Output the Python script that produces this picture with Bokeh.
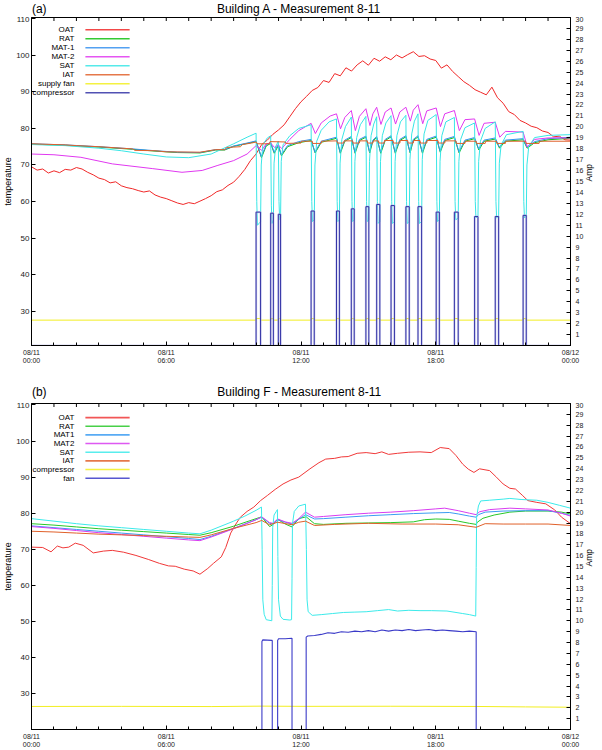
import math
from bokeh.plotting import figure
from bokeh.models import Range1d, LinearAxis, FixedTicker, Label
from bokeh.layouts import column
from bokeh.embed import file_html
from bokeh.resources import INLINE

FONT = "Liberation Sans"

# ---------------- axis ticks / labels ----------------
HOUR_TICKS = [0, 6, 12, 18, 24]
HOUR_LABELS = ["08/11\n00:00", "08/11\n06:00", "08/11\n12:00", "08/11\n18:00", "08/12\n00:00"]
MINOR_HOURS = list(range(25))
TEMP_TICKS = [30, 40, 50, 60, 70, 80, 90, 100, 110]
AMP_TICKS = list(range(1, 31))

# ---------------- Panel (a): Building A ----------------
TITLE_A = "Building A - Measurement 8-11"
LEGEND_A = ["OAT", "RAT", "MAT-1", "MAT-2", "SAT", "IAT", "supply fan", "compressor"]
COLORS_A = ["#f02828", "#10c010", "#3590ee", "#e038f0", "#38e6e6", "#e0602a", "#f2ee20", "#3232a6"]

# OAT every 15 minutes from 00:00 to 24:00
OAT_A = [69.5, 68.6, 68.9, 67.8, 68.4, 67.9, 68.8, 68.6, 69.3, 68.9, 68.0, 67.3,
         66.4, 66.0, 65.1, 65.4, 64.3, 63.8, 63.5, 63.0, 62.6, 62.9, 61.8, 61.2,
         60.8, 60.2, 59.6, 59.2, 59.7, 59.4, 60.1, 60.8, 61.6, 62.7, 63.2, 64.4,
         65.3, 66.9, 68.8, 71.2, 73.0, 75.6, 76.8, 78.4, 79.6, 81.0, 83.2, 85.4,
         87.3, 88.8, 90.4, 91.2, 93.1, 92.6, 95.0, 94.4, 96.6, 95.7, 97.4, 98.5,
         97.3, 99.2, 98.4, 99.6, 98.8, 100.1, 99.3, 100.2, 101.0, 99.7, 99.9, 99.0,
         98.6, 96.5, 97.4, 95.6, 94.2, 92.8, 91.8, 90.6, 89.9, 89.2, 91.3, 88.4,
         86.9, 84.6, 83.8, 82.2, 81.5, 80.6, 80.2, 79.3, 78.9, 77.7, 77.9, 76.9, 76.8]
OAT_A_STEP_H = 0.25

RAT_A = [(0.0, 75.7), (1.5, 75.4), (3.0, 74.9), (4.5, 74.3), (5.5, 73.8), (6.5, 73.4), (7.5, 73.3),
         (8.2, 74.1), (8.6, 74.1), (9.0, 75.1), (9.6, 75.9), (10.0, 76.4),
         (10.24, 72.0), (10.45, 75.2), (10.65, 75.9), (10.81, 73.2), (10.99, 75.3), (11.13, 72.5),
         (11.4, 75.0), (11.9, 76.1), (12.45, 76.7), (12.63, 73.3), (12.9, 76.2), (13.58, 77.3),
         (13.75, 73.2), (13.95, 76.5), (14.24, 77.5), (14.41, 73.2), (14.6, 76.7), (14.89, 77.6),
         (15.06, 73.3), (15.2, 76.5), (15.37, 77.5), (15.55, 73.2), (15.75, 76.7), (16.01, 77.7),
         (16.20, 73.2), (16.4, 76.7), (16.67, 77.7), (16.86, 73.3), (17.0, 76.7), (17.21, 77.7),
         (17.41, 73.2), (17.6, 76.7), (18.02, 77.6), (18.20, 73.5), (18.4, 76.7), (18.83, 77.5),
         (19.04, 73.3), (19.3, 76.5), (19.73, 77.2), (19.92, 74.1), (20.15, 76.5), (20.65, 77.1),
         (20.84, 74.6), (21.1, 76.5), (21.89, 76.9), (22.07, 74.6), (22.4, 76.1), (23.0, 76.9), (24.0, 77.3)]

MAT1_A = [(0.0, 75.8), (1.5, 75.5), (3.0, 75.0), (4.5, 74.4), (5.5, 73.9), (6.5, 73.5), (7.5, 73.4),
          (8.2, 74.2), (8.6, 74.2), (9.0, 75.2), (9.6, 76.0), (10.0, 76.6),
          (10.23, 72.3), (10.45, 75.5), (10.65, 76.2), (10.80, 73.5), (10.99, 75.6), (11.12, 72.8),
          (11.4, 75.3), (11.9, 76.4), (12.45, 77.0), (12.62, 73.5), (12.9, 76.5), (13.58, 77.6),
          (13.74, 73.5), (13.95, 76.8), (14.24, 77.8), (14.40, 73.5), (14.6, 77.0), (14.89, 77.9),
          (15.05, 73.6), (15.2, 76.8), (15.37, 77.8), (15.54, 73.5), (15.75, 77.0), (16.01, 78.0),
          (16.19, 73.5), (16.4, 77.0), (16.67, 78.0), (16.85, 73.6), (17.0, 77.0), (17.21, 78.0),
          (17.40, 73.5), (17.6, 77.0), (18.02, 77.9), (18.19, 73.8), (18.4, 77.0), (18.83, 77.8),
          (19.03, 73.6), (19.3, 76.8), (19.73, 77.5), (19.91, 74.4), (20.15, 76.8), (20.65, 77.4),
          (20.83, 74.9), (21.1, 76.8), (21.89, 77.2), (22.06, 74.9), (22.4, 76.4), (23.0, 77.2), (24.0, 77.6)]

MAT2_A = [(0.0, 73.0), (1.0, 72.8), (2.2, 72.1), (3.6, 70.3), (5.4, 69.0), (6.7, 68.0), (7.6, 68.5),
          (8.3, 69.9), (9.0, 71.2), (9.6, 73.0), (10.0, 75.3),
          (10.25, 74.0), (10.45, 75.8), (10.65, 76.0), (10.82, 74.8), (10.99, 75.5), (11.14, 74.5),
          (11.5, 77.0), (11.9, 79.4), (12.45, 81.4), (12.64, 78.6), (12.9, 81.5), (13.3, 83.4), (13.58, 84.0),
          (13.76, 79.9), (13.95, 83.0), (14.24, 84.9), (14.42, 79.4), (14.6, 83.3), (14.89, 85.4),
          (15.07, 80.8), (15.2, 84.0), (15.37, 85.8), (15.56, 81.1), (15.75, 84.5), (16.01, 85.6),
          (16.21, 81.2), (16.4, 84.5), (16.67, 85.8), (16.87, 82.0), (17.0, 85.0), (17.21, 86.5),
          (17.42, 81.3), (17.6, 84.8), (18.02, 85.6), (18.21, 80.5), (18.4, 84.0), (18.83, 84.9),
          (19.05, 79.4), (19.3, 82.4), (19.73, 82.6), (19.93, 78.1), (20.15, 81.4), (20.65, 81.7),
          (20.85, 77.6), (21.1, 79.2), (21.89, 79.0), (22.08, 74.9), (22.4, 77.0), (23.0, 77.4), (24.0, 77.4)]

SAT_A = [(0.0, 75.6), (1.5, 75.3), (3.0, 74.6), (4.0, 73.9), (5.0, 73.0), (6.0, 72.2), (7.0, 72.0),
         (8.0, 73.0), (9.0, 75.8), (9.6, 77.6), (10.0, 78.7),
         (10.03, 60.0), (10.06, 53.5), (10.20, 54.5), (10.23, 70.0), (10.30, 75.5), (10.50, 77.4), (10.65, 78.0),
         (10.68, 59.0), (10.71, 54.0), (10.77, 55.0), (10.80, 70.5), (10.87, 75.0), (10.99, 76.5),
         (11.02, 60.0), (11.05, 55.0), (11.09, 55.5), (11.12, 71.0), (11.20, 75.5), (11.50, 78.0), (11.90, 80.0), (12.45, 81.0),
         (12.48, 60.0), (12.51, 54.5), (12.59, 55.0), (12.62, 70.0), (12.70, 76.5), (12.90, 79.5), (13.25, 81.8), (13.58, 82.6),
         (13.61, 60.0), (13.64, 54.5), (13.71, 55.0), (13.74, 70.5), (13.82, 77.0), (13.98, 80.5), (14.24, 83.1),
         (14.27, 60.0), (14.30, 54.5), (14.37, 55.0), (14.40, 71.0), (14.48, 77.5), (14.64, 81.0), (14.89, 83.3),
         (14.92, 60.0), (14.95, 54.5), (15.02, 55.0), (15.05, 71.0), (15.12, 78.0), (15.24, 81.2), (15.37, 83.2),
         (15.40, 60.0), (15.43, 54.0), (15.51, 54.5), (15.54, 71.0), (15.62, 78.0), (15.78, 81.5), (16.01, 83.5),
         (16.04, 60.0), (16.07, 54.0), (16.16, 54.5), (16.19, 71.0), (16.27, 78.0), (16.43, 81.8), (16.67, 83.6),
         (16.70, 60.0), (16.73, 54.0), (16.82, 54.5), (16.85, 71.5), (16.93, 78.5), (17.05, 82.0), (17.21, 84.0),
         (17.24, 60.0), (17.27, 54.0), (17.37, 54.5), (17.40, 71.5), (17.48, 78.5), (17.65, 82.2), (18.02, 83.8),
         (18.05, 60.0), (18.08, 54.5), (18.16, 55.0), (18.19, 71.0), (18.27, 78.0), (18.45, 81.8), (18.83, 83.0),
         (18.86, 60.0), (18.89, 55.0), (19.00, 55.5), (19.03, 71.0), (19.11, 77.0), (19.30, 80.2), (19.73, 81.5),
         (19.76, 60.0), (19.79, 55.5), (19.88, 56.0), (19.91, 71.0), (19.99, 76.5), (20.20, 80.0), (20.65, 81.8),
         (20.68, 60.0), (20.71, 55.5), (20.80, 56.0), (20.83, 70.5), (20.91, 75.5), (21.15, 78.3), (21.89, 79.2),
         (21.92, 60.0), (21.95, 55.5), (22.03, 56.0), (22.06, 70.0), (22.14, 75.0), (22.40, 77.5), (23.0, 78.1), (24.0, 78.3)]

IAT_A = [(0.0, 75.8), (1.5, 75.5), (2.0, 75.3), (3.0, 75.0), (4.5, 74.4), (4.6, 74.0), (5.5, 73.9), (6.0, 73.6),
         (7.5, 73.5), (8.2, 74.2), (8.6, 74.2), (8.7, 74.8), (9.3, 75.0), (9.4, 75.6), (9.8, 76.0), (10.0, 76.3),
         (10.05, 75.8), (10.6, 75.8), (10.62, 76.4), (11.3, 76.3), (11.32, 75.9), (12.0, 76.0), (12.02, 76.5),
         (12.5, 76.5), (12.52, 75.9), (12.9, 75.9), (12.92, 76.5), (13.6, 76.6), (13.62, 76.0), (13.9, 76.0),
         (13.92, 76.6), (14.3, 76.6), (14.32, 76.0), (14.6, 76.0), (14.62, 76.6), (14.95, 76.6), (14.97, 76.0),
         (15.2, 76.0), (15.22, 76.6), (15.45, 76.6), (15.47, 76.0), (15.7, 76.0), (15.72, 76.7), (16.1, 76.7),
         (16.12, 76.0), (16.4, 76.0), (16.42, 76.7), (16.75, 76.7), (16.77, 76.0), (17.0, 76.0), (17.02, 76.7),
         (17.3, 76.7), (17.32, 76.0), (17.6, 76.0), (17.62, 76.7), (18.1, 76.7), (18.12, 76.0), (18.4, 76.0),
         (18.42, 76.6), (18.9, 76.6), (18.92, 75.9), (19.3, 75.9), (19.32, 76.5), (19.8, 76.5), (19.82, 75.9),
         (20.2, 75.9), (20.22, 76.5), (20.7, 76.5), (20.72, 75.9), (21.1, 75.9), (21.12, 76.5), (22.0, 76.5),
         (22.02, 75.9), (22.6, 75.9), (22.62, 76.5), (24.0, 76.5)]

# compressor cycles (hours) and current during each run (A)
COMP_A_ON = [10.00, 10.65, 10.99, 12.45, 13.58, 14.24, 14.89, 15.37, 16.01, 16.67, 17.21, 18.02, 18.83, 19.73, 20.65, 21.89]
COMP_A_OFF = [10.20, 10.77, 11.09, 12.59, 13.71, 14.37, 15.02, 15.51, 16.16, 16.82, 17.37, 18.16, 19.00, 19.88, 20.80, 22.03]
COMP_A_AMP = [12.2, 12.1, 12.0, 12.3, 12.3, 12.5, 12.7, 12.9, 12.8, 12.7, 12.7, 12.2, 12.2, 11.8, 11.8, 11.9]
# supply fan current: idle level, level while compressor runs (A)
FAN_A_LEVELS = [2.32, 2.46]

# ---------------- Panel (b): Building F ----------------
TITLE_B = "Building F - Measurement 8-11"
LEGEND_B = ["OAT", "RAT", "MAT1", "MAT2", "SAT", "IAT", "compressor", "fan"]
COLORS_B = ["#f03838", "#28c828", "#3b9cf2", "#d83cf0", "#3ceaea", "#e0602a", "#f2ee20", "#3a3ac8"]

OAT_B = [(0.0, 70.6), (0.5, 70.5), (0.87, 69.3), (1.15, 70.9), (1.4, 70.4), (1.66, 70.6), (1.95, 71.7),
         (2.3, 71.1), (2.75, 69.0), (3.2, 69.5), (3.6, 69.7), (4.1, 69.2), (4.65, 68.3), (5.2, 67.2),
         (5.7, 66.1), (6.1, 65.4), (6.4, 65.3), (6.8, 64.5), (7.2, 64.0), (7.5, 63.1), (7.85, 64.7),
         (8.1, 66.1), (8.45, 67.9), (8.65, 70.5), (8.87, 74.5), (9.1, 77.0), (9.3, 78.9), (9.6, 80.5),
         (9.9, 81.7), (10.2, 83.5), (10.5, 84.9), (10.85, 86.6), (11.2, 88.1), (11.55, 89.2), (11.9, 90.0),
         (12.4, 92.3), (12.8, 94.0), (13.1, 95.0), (13.5, 95.2), (13.8, 95.6), (14.1, 95.7), (14.5, 96.6),
         (14.9, 96.8), (15.3, 96.5), (15.6, 97.0), (15.9, 96.3), (16.3, 96.6), (16.8, 96.9), (17.3, 97.0),
         (17.8, 96.8), (18.2, 98.2), (18.6, 97.9), (18.9, 96.0), (19.2, 93.6), (19.45, 92.2), (19.7, 91.3),
         (19.95, 92.3), (20.4, 91.8), (20.7, 90.0), (21.0, 88.1), (21.3, 86.9), (21.55, 86.7), (21.85, 85.0),
         (22.1, 83.5), (22.5, 83.0), (22.9, 82.6), (23.3, 80.9), (23.6, 78.9), (24.0, 77.1)]

RAT_B = [(0.0, 77.1), (1.0, 76.7), (2.0, 76.2), (3.0, 75.7), (4.0, 75.3), (5.0, 74.9), (6.0, 74.5),
         (7.0, 74.1), (7.5, 73.9), (8.0, 74.6), (9.0, 76.4), (10.0, 78.5), (10.25, 79.0), (10.6, 76.3),
         (10.75, 76.8), (10.96, 78.3), (11.3, 77.0), (11.6, 76.2), (11.9, 78.5), (12.23, 79.0), (12.6, 77.1),
         (13.0, 76.9), (14.0, 77.2), (15.0, 77.3), (16.0, 77.4), (17.0, 77.6), (17.5, 78.2), (18.0, 78.4),
         (18.6, 78.3), (19.0, 77.8), (19.5, 77.2), (19.8, 76.9), (19.85, 77.5), (20.1, 78.6), (20.6, 79.5),
         (21.3, 80.3), (22.0, 80.6), (23.0, 80.6), (23.6, 80.3), (24.0, 79.8)]

MAT1_B = [(0.0, 76.5), (1.0, 76.0), (2.0, 75.5), (3.0, 75.0), (4.0, 74.5), (5.0, 74.0), (6.0, 73.5),
          (7.0, 73.0), (7.5, 72.7), (8.0, 73.6), (9.0, 75.8), (10.0, 78.2), (10.25, 78.9), (10.6, 77.2),
          (10.75, 77.0), (10.96, 78.2), (11.3, 77.5), (11.6, 77.0), (11.9, 78.3), (12.2, 79.6), (12.6, 78.4),
          (13.0, 78.5), (14.0, 78.9), (15.0, 79.3), (16.0, 79.6), (17.0, 79.9), (18.0, 80.1), (18.6, 80.2),
          (19.0, 79.8), (19.5, 79.2), (19.8, 78.9), (19.9, 79.6), (20.2, 80.3), (21.0, 80.6), (22.0, 80.7),
          (23.0, 80.7), (23.6, 80.0), (24.0, 79.4)]

MAT2_B = [(0.0, 76.3), (1.0, 75.8), (2.0, 75.2), (3.0, 74.6), (4.0, 74.1), (5.0, 73.6), (6.0, 73.1),
          (7.0, 72.6), (7.5, 72.4), (8.0, 73.4), (9.0, 75.7), (10.0, 78.2), (10.25, 79.0), (10.6, 77.4),
          (10.75, 77.2), (10.96, 78.4), (11.3, 77.6), (11.6, 77.2), (11.9, 78.5), (12.2, 80.3), (12.6, 78.9),
          (13.0, 79.1), (14.0, 79.6), (15.0, 80.0), (16.0, 80.3), (17.0, 80.7), (18.0, 81.2), (18.4, 81.4),
          (19.0, 80.7), (19.5, 80.0), (19.8, 79.6), (19.95, 80.4), (20.4, 81.0), (21.3, 81.4), (22.0, 81.2),
          (23.0, 80.9), (23.6, 80.0), (24.0, 79.2)]

SAT_B = [(0.0, 78.5), (1.0, 77.8), (2.0, 77.1), (3.0, 76.5), (4.0, 76.0), (5.0, 75.5), (6.0, 75.0),
         (7.0, 74.5), (7.5, 74.3), (8.0, 75.3), (9.0, 77.8), (9.5, 79.2), (10.0, 80.8), (10.24, 81.7),
         (10.27, 70.0), (10.30, 56.0), (10.36, 52.0), (10.45, 50.5), (10.70, 50.2), (10.72, 60.0),
         (10.74, 76.0), (10.80, 79.5), (10.90, 80.5), (10.95, 81.0),
         (10.97, 68.0), (11.0, 56.0), (11.08, 51.5), (11.2, 50.6), (11.5, 50.4), (11.58, 50.5), (11.60, 62.0),
         (11.62, 77.0), (11.7, 80.5), (11.9, 82.0), (12.2, 82.5),
         (12.24, 70.0), (12.27, 56.0), (12.32, 52.7), (12.5, 51.7), (12.9, 51.9), (13.4, 52.2), (13.9, 52.5),
         (14.4, 52.6), (14.9, 52.7), (15.4, 53.0), (15.9, 53.3), (16.3, 52.9), (16.8, 53.1), (17.3, 53.0),
         (17.8, 53.0), (18.5, 52.9), (19.2, 52.2), (19.5, 51.9), (19.78, 51.5), (19.80, 65.0), (19.82, 78.9),
         (19.9, 82.0), (20.0, 83.4), (20.4, 83.6), (21.0, 83.9), (21.3, 84.1), (21.8, 83.8), (22.5, 83.6),
         (23.0, 83.0), (23.5, 82.2), (24.0, 81.4)]

IAT_B = [(0.0, 75.0), (1.0, 74.8), (2.0, 74.5), (3.0, 74.2), (4.0, 74.0), (5.0, 73.8), (6.0, 73.6),
         (7.0, 73.4), (7.5, 73.3), (8.0, 74.0), (9.0, 75.8), (10.0, 77.4), (10.25, 78.0), (10.6, 76.8),
         (10.96, 77.5), (11.6, 76.8), (11.9, 77.5), (12.2, 77.8), (12.6, 76.6), (13.5, 76.9), (15.0, 77.2),
         (16.5, 77.0), (18.0, 77.0), (19.0, 76.8), (19.8, 76.1), (20.2, 77.1), (21.0, 77.0), (22.0, 77.0),
         (23.0, 77.0), (24.0, 76.6)]

# current (A)
COMP_B = [(0.0, 2.12), (4.0, 2.13), (8.0, 2.11), (10.3, 2.15), (12.0, 2.13), (16.0, 2.14), (19.8, 2.12),
          (22.0, 2.08), (24.0, 2.05)]

FAN_B = [(0.0, 0.0), (10.26, 0.0), (10.26, 8.1), (10.3, 8.25), (10.7, 8.2), (10.72, 8.2), (10.72, 0.0),
         (10.96, 0.0), (10.96, 8.2), (11.0, 8.35), (11.3, 8.35), (11.6, 8.4), (11.6, 0.0),
         (12.23, 0.0), (12.23, 8.5), (12.3, 8.6), (12.6, 8.65), (12.9, 8.75), (13.2, 8.9), (13.5, 8.85),
         (13.8, 9.0), (14.1, 8.95), (14.4, 9.05), (14.7, 9.0), (15.0, 9.1), (15.3, 9.0), (15.6, 9.15),
         (15.9, 9.05), (16.2, 9.15), (16.5, 9.1), (16.8, 9.2), (17.1, 9.1), (17.4, 9.15), (17.7, 9.2),
         (18.0, 9.1), (18.3, 9.15), (18.6, 9.1), (18.9, 9.05), (19.2, 9.0), (19.5, 9.05), (19.8, 9.0),
         (19.8, 0.0), (24.0, 0.0)]


def unzip(pairs):
    return [a for a, _ in pairs], [b for _, b in pairs]


def cycle_polyline(on, off, levels_on, base):
    xs, ys = [0.0], [base]
    for a, b, v in zip(on, off, levels_on):
        xs += [a, a, b, b]
        ys += [base, v, v, base]
    xs.append(24.0)
    ys.append(base)
    return xs, ys


def make_header(height, title, tag, ty):
    h = figure(width=602, height=height, x_range=Range1d(0, 602), y_range=Range1d(height, 0),
               x_axis_type=None, y_axis_type=None, output_backend="svg", toolbar_location=None,
               min_border=0, min_border_left=0, min_border_right=0, min_border_top=0, min_border_bottom=0)
    h.outline_line_color = None
    h.background_fill_color = "white"
    h.border_fill_color = "white"
    h.add_layout(Label(x=299, y=ty, text=title, text_font=FONT, text_font_size="12px",
                       text_align="center", text_baseline="middle", text_color="black"))
    h.add_layout(Label(x=0.5, y=ty, text=tag, text_font=FONT, text_font_size="12px",
                       text_align="left", text_baseline="middle", text_color="black"))
    return h


def make_panel(height, top, bottom, ylo, yhi):
    p = figure(width=602, height=height, x_range=Range1d(0, 24), y_range=Range1d(ylo, yhi),
               x_axis_type=None, y_axis_type=None, output_backend="svg", toolbar_location=None,
               min_border_left=27, min_border_right=26, min_border_top=top, min_border_bottom=bottom)
    p.extra_y_ranges = {"amp": Range1d(0, 30)}
    p.outline_line_color = "black"
    p.outline_line_width = 1
    p.background_fill_color = "white"
    p.border_fill_color = "white"

    common = dict(axis_line_color="black", axis_line_width=1, major_tick_line_color="black",
                  minor_tick_line_color="black", major_label_text_font=FONT,
                  major_label_text_color="#1a1a1a", axis_label_text_font=FONT,
                  axis_label_text_font_style="normal", axis_label_text_color="black")
    bottom_ax = LinearAxis(ticker=FixedTicker(ticks=HOUR_TICKS, minor_ticks=MINOR_HOURS),
                           major_label_overrides=dict(zip(HOUR_TICKS, HOUR_LABELS)),
                           major_tick_in=4, major_tick_out=0, minor_tick_in=3, minor_tick_out=0,
                           major_label_standoff=3, major_label_text_font_size="7px", **common)
    left_ax = LinearAxis(ticker=FixedTicker(ticks=TEMP_TICKS, minor_ticks=[]),
                         axis_label="temperature", axis_label_text_font_size="9px",
                         axis_label_standoff=0,
                         major_tick_in=4, major_tick_out=0, minor_tick_in=0, minor_tick_out=0,
                         major_label_standoff=2, major_label_text_font_size="8px", **common)
    right_ax = LinearAxis(y_range_name="amp", ticker=FixedTicker(ticks=AMP_TICKS, minor_ticks=[]),
                          axis_label="Amp", axis_label_text_font_size="8.5px",
                          axis_label_standoff=3, axis_label_orientation=math.pi / 2,
                          major_tick_in=4, major_tick_out=0, minor_tick_in=0, minor_tick_out=0,
                          major_label_standoff=5, major_label_text_font_size="7px", **common)
    p.add_layout(bottom_ax, "below")
    p.add_layout(left_ax, "left")
    p.add_layout(right_ax, "right")
    # inward tick marks along the top edge of the frame (hourly)
    tick_len = 3.5 * (yhi - ylo) / (height - top - bottom)
    p.segment(x0=MINOR_HOURS, y0=[yhi] * len(MINOR_HOURS), x1=MINOR_HOURS,
              y1=[yhi - tick_len] * len(MINOR_HOURS), line_color="black", line_width=1)
    return p


def add_legend(p, labels, colors, y0, dy):
    for i, (lab, col) in enumerate(zip(labels, colors)):
        y = y0 - i * dy
        p.add_layout(Label(x=1.91, y=y, text=lab, text_font=FONT, text_font_size="8px",
                           text_align="right", text_baseline="middle", text_color="black"))
        p.line([2.40, 4.37], [y, y], line_color=col, line_width=1.6, line_alpha=0.85)


# ---------- panel (a) ----------
ha = make_header(16, TITLE_A, "(a)", 8)
pa = make_panel(356, 1, 27, 20.6, 110.36)
oat_a_h = [i * OAT_A_STEP_H for i in range(len(OAT_A))]
pa.line(oat_a_h, OAT_A, line_color=COLORS_A[0], line_width=1)
for series, col in zip([RAT_A, MAT1_A, MAT2_A, SAT_A, IAT_A], COLORS_A[1:6]):
    xs, ys = unzip(series)
    pa.line(xs, ys, line_color=col, line_width=1)
fx, fy = cycle_polyline(COMP_A_ON, COMP_A_OFF, [FAN_A_LEVELS[1]] * len(COMP_A_ON), FAN_A_LEVELS[0])
pa.line(fx, fy, line_color=COLORS_A[6], line_width=1, y_range_name="amp")
cx, cy = cycle_polyline(COMP_A_ON, COMP_A_OFF, COMP_A_AMP, 0.0)
pa.line(cx, cy, line_color="#b8b8e6", line_width=2.2, y_range_name="amp", line_alpha=0.6)
pa.line(cx, cy, line_color=COLORS_A[7], line_width=1, y_range_name="amp")
add_legend(pa, LEGEND_A, COLORS_A, 107.0, 2.462)

# ---------- panel (b) ----------
hb = make_header(30, TITLE_B, "(b)", 19)
pb = make_panel(348, 1, 20, 20.07, 110.4)
for series, col in zip([OAT_B, RAT_B, MAT1_B, MAT2_B, SAT_B, IAT_B], COLORS_B[:6]):
    xs, ys = unzip(series)
    pb.line(xs, ys, line_color=col, line_width=1)
xs, ys = unzip(COMP_B)
pb.line(xs, ys, line_color=COLORS_B[6], line_width=1, y_range_name="amp")
xs, ys = unzip(FAN_B)
pb.line(xs, ys, line_color=COLORS_B[7], line_width=1.1, y_range_name="amp")
add_legend(pb, LEGEND_B, COLORS_B, 106.5, 2.4)

layout = column(ha, pa, hb, pb, spacing=0)
open("out.html", "w").write(file_html(layout, INLINE))
